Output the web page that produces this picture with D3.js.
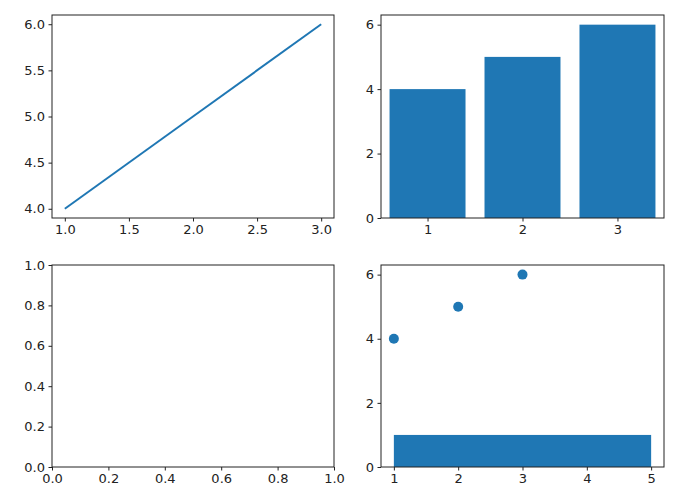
<!DOCTYPE html><html><head><script src="https://cdn.jsdelivr.net/npm/d3@7"></script>
<style>body{margin:0;background:#fff}text{font-family:"DejaVu Sans";}</style></head><body><svg id="c" width="678" height="504"></svg>
<script>
const lineX=[1,2,3], lineY=[4,5,6];
const barCats=[1,2,3], barVals=[4,5,6];
const scatX=[1,2,3], scatY=[4,5,6];
const wideBar={x0:1,x1:5,h:1};
const C="#1f77b4";
const svg=d3.select("#c");
const boxes=[[52,334,15,218],[381,664,15,218],[52,334,265,467],[381,664,265,467]];
function ax(b,xd,yd,xt,yt,xf,yf){
 const x=d3.scaleLinear().domain(xd).range([b[0],b[1]]);
 const y=d3.scaleLinear().domain(yd).range([b[3],b[2]]);
 const g=svg.append("g");
 return {x,y,g,finish(){
  const gx=svg.append("g").attr("transform",`translate(0,${b[3]})`).call(d3.axisBottom(x).tickValues(xt).tickFormat(xf).tickSize(3.5).tickPadding(3.5));
  const gy=svg.append("g").attr("transform",`translate(${b[0]},0)`).call(d3.axisLeft(y).tickValues(yt).tickFormat(yf).tickSize(3.5).tickPadding(3.5));
  [gx,gy].forEach(a=>{a.select(".domain").remove();a.selectAll("text").attr("font-size",13).attr("fill","#222").attr("font-family","DejaVu Sans");a.selectAll("line").attr("stroke","#222")});
  svg.append("rect").attr("x",b[0]).attr("y",b[2]).attr("width",b[1]-b[0]).attr("height",b[3]-b[2]).attr("fill","none").attr("stroke","#222").attr("stroke-width",1);
 }};
}
const f1=d3.format(".1f");
let a=ax(boxes[0],[0.9,3.1],[3.9,6.1],[1,1.5,2,2.5,3],[4,4.5,5,5.5,6],f1,f1);
a.g.append("path").datum(lineX.map((v,i)=>[v,lineY[i]])).attr("d",d3.line().x(d=>a.x(d[0])).y(d=>a.y(d[1]))).attr("fill","none").attr("stroke",C).attr("stroke-width",2);
a.finish();
a=ax(boxes[1],[0.51,3.49],[0,6.3],[1,2,3],[0,2,4,6],d3.format("d"),d3.format("d"));
barCats.forEach((c,i)=>a.g.append("rect").attr("x",a.x(c-0.4)).attr("width",a.x(c+0.4)-a.x(c-0.4)).attr("y",a.y(barVals[i])).attr("height",a.y(0)-a.y(barVals[i])).attr("fill",C));
a.finish();
a=ax(boxes[2],[0,1],[0,1],[0,.2,.4,.6,.8,1],[0,.2,.4,.6,.8,1],f1,f1);
a.finish();
a=ax(boxes[3],[0.8,5.2],[0,6.3],[1,2,3,4,5],[0,2,4,6],d3.format("d"),d3.format("d"));
a.g.append("rect").attr("x",a.x(wideBar.x0)).attr("width",a.x(wideBar.x1)-a.x(wideBar.x0)).attr("y",a.y(wideBar.h)).attr("height",a.y(0)-a.y(wideBar.h)).attr("fill",C);
scatX.forEach((v,i)=>a.g.append("circle").attr("cx",a.x(v)).attr("cy",a.y(scatY[i])).attr("r",5).attr("fill",C));
a.finish();
</script></body></html>
